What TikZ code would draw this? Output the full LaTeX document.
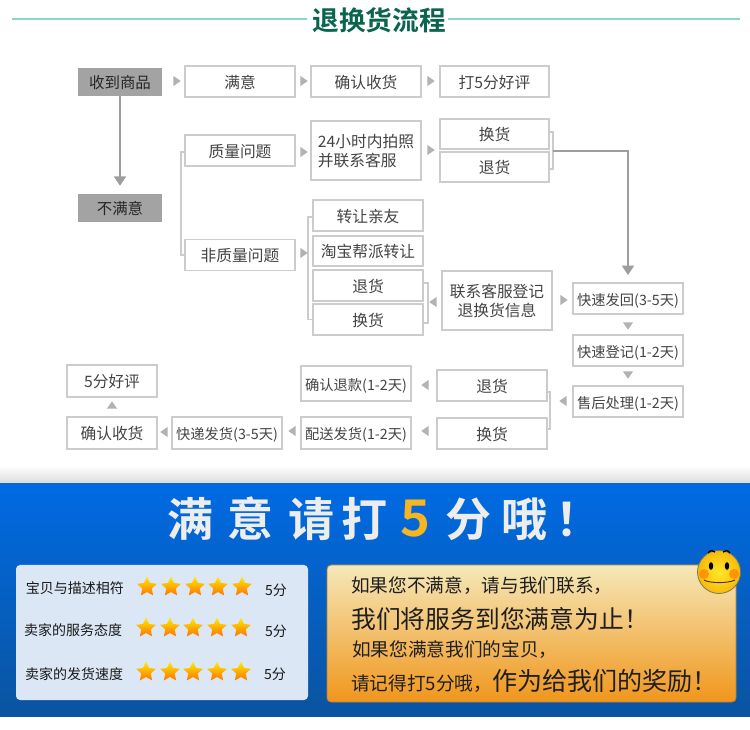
\documentclass[tikz,border=0pt]{standalone}
\usepackage{fontspec}
\setmainfont{Noto Sans CJK SC}[BoldFont=* Bold]
\usetikzlibrary{shapes.geometric,arrows.meta}
\definecolor{boxline}{HTML}{CCCCCC}
\definecolor{boxtext}{HTML}{444444}
\definecolor{tri}{HTML}{B2B2B2}
\newcommand{\fs}[1]{\fontsize{#1}{#1}\selectfont}
\newcommand{\nar}[1]{{\fontsize{10.7}{14.25}\selectfont #1}}
\tikzset{
 x=0.75pt,y=-0.75pt,
 flowbox/.style={draw=boxline,line width=1pt,fill=white,text=boxtext,inner sep=0pt,font=\fontsize{11.8}{14.25}\selectfont},
 darkbox/.style={draw=none,fill=black!36,text=black!85,inner sep=0pt,font=\fontsize{11.6}{14.25}\selectfont},
 tribase/.style={isosceles triangle,isosceles triangle apex angle=70,fill=tri,draw=none,inner sep=0pt,minimum width=7.5pt,minimum height=5.5pt},
 triright/.style={tribase,shape border rotate=0},
 trileft/.style={tribase,shape border rotate=180},
 tridown/.style={tribase,shape border rotate=270},
 triup/.style={tribase,shape border rotate=90},
 link/.style={draw=boxline,line width=1pt},
 darklink/.style={draw=black!38,line width=1.1pt},
 starmark/.style={star,star points=5,star point ratio=2.05,minimum size=15.5pt,inner sep=0pt,draw=none,top color=yellow!85!orange,bottom color=orange!90!red},
 rowtext/.style={text=black!90,inner sep=0pt,font=\fs{10.5}},
 msg/.style={anchor=west,text=black!88,inner sep=0pt},
}
\newcommand{\bx}[7][flowbox]{%
 \node[#1,minimum width=#4*0.75pt,minimum height=#5*0.75pt] (#2) at (#3)
 {\raisebox{-2.2pt}[\height][\depth]{\begin{tabular}{@{}#6@{}}#7\end{tabular}}};}
\begin{document}
\begin{tikzpicture}
\useasboundingbox (0,0) rectangle (750,730);
\fill[white] (0,0) rectangle (750,730);
% banner
\shade[top color={rgb,255:red,0;green,108;blue,232},bottom color={rgb,255:red,10;green,84;blue,160}] (0,466) rectangle (750,716);
\fill[white,rounded corners=10.5pt] (-30,-30) rectangle (780,483);
\begin{scope}
\clip[rounded corners=10.5pt] (-30,-30) rectangle (780,483);
\shade[top color=white,bottom color=black!14] (-30,466) rectangle (780,483);
\end{scope}
% title
\node[font=\bfseries\fs{20},text={rgb,255:red,10;green,100;blue,78},inner sep=0pt] (title) at (379,20) {退换货流程};
\coordinate (tl) at (12,19);\coordinate (tr) at (740,19);
\coordinate (tml) at (307,19);\coordinate (tmr) at (448,19);
\draw[line width=1.5pt,draw={rgb,255:red,140;green,214;blue,198}] (tl) -- (tml);
\draw[line width=1.5pt,draw={rgb,255:red,140;green,214;blue,198}] (tmr) -- (tr);
% boxes
\bx[darkbox]{shou}{120,82}{84}{28}{c}{收到商品}
\bx[darkbox]{bu}{120,208}{84}{28}{c}{不满意}
\bx{my}{240,81.5}{110}{31}{c}{满意}
\bx{qr}{366,81.5}{110}{31}{c}{确认收货}
\bx{dp}{494.5,81.5}{109}{31}{c}{打5分好评}
\bx{zl}{240,150.5}{110}{31}{c}{质量问题}
\bx{hr}{366,150.5}{110}{59}{l}{24小时内拍照\\并联系客服}
\bx{hh}{494.5,134}{109}{30}{c}{换货}
\bx{th}{494.5,167}{109}{30}{c}{退货}
\bx{fz}{240,255}{110}{31}{c}{非质量问题}
\bx{zr}{368,215.5}{110}{31}{c}{转让亲友}
\bx{tb}{368,251}{110}{30}{c}{淘宝帮派转让}
\bx{tb2}{368,285.5}{110}{31}{c}{退货}
\bx{hb2}{368,319.5}{110}{31}{c}{换货}
\bx{lx}{497,300.5}{110}{59}{c}{联系客服登记\\退换货信息}
\bx{kf}{628,298.5}{110}{31}{c}{\nar{快速发回(3-5天)}}
\bx{kd}{628,350.5}{110}{31}{c}{\nar{快速登记(1-2天)}}
\bx{sh}{628,401.5}{110}{31}{c}{\nar{售后处理(1-2天)}}
\bx{tc}{492,385.5}{110}{31}{c}{退货}
\bx{hc}{492,433.5}{110}{31}{c}{换货}
\bx{qt}{356,383.5}{110}{35}{c}{\nar{确认退款(1-2天)}}
\bx{ps}{356,433}{110}{32}{c}{\nar{配送发货(1-2天)}}
\bx{kz}{227,433}{110}{32}{c}{\nar{快递发货(3-5天)}}
\bx{qs}{112,433}{90}{32}{c}{确认收货}
\bx{wf}{112,381}{90}{32}{c}{5分好评}
% connectors
\coordinate (b1) at (181,152);
\coordinate (b2) at (308,217);
\coordinate (b3) at (428,283);
\coordinate (b4) at (553,132);
\coordinate (b5) at (553,151);
\coordinate (b6) at (550,392);
\draw[darklink,line width=1.4pt,-{Triangle[length=7pt,width=9pt]},shorten >=6pt] (shou) -- (bu);
\draw[link] (zl.west |- b1) -- (b1) |- (fz.west);
\draw[link] (zr.west |- b2) -- (b2) |- (hb2.west);
\draw[link] (tb2.east |- b3) -- (b3) -- (428,323) -- (hb2.east |- 428,323);
\draw[link] (hh.east |- b4) -- (b4) -- (553,169) -- (th.east |- 553,169);
\draw[darklink,-{Triangle[length=7pt,width=9pt]},shorten >=5.5pt] (b5) -| (kf.north);
\draw[link] (tc.east |- b6) -- (b6) -- (550,429) -- (hc.east |- 550,429);
% small triangles
\node[triright] (a1) at (176,81) {};
\node[triright] (a2) at (303,81) {};
\node[triright] (a3) at (430,81) {};
\node[triright] (a4) at (303,152) {};
\node[triright] (a5) at (430,150) {};
\node[triright] (a6) at (303,253) {};
\node[trileft] (a7) at (434,302) {};
\node[triright] (a8) at (563,300) {};
\node[tridown] (a9) at (628,325) {};
\node[tridown] (a10) at (628,374) {};
\node[trileft] (a11) at (564,401) {};
\node[trileft] (a12) at (426,385) {};
\node[trileft] (a13) at (426,431) {};
\node[trileft] (a14) at (293,431) {};
\node[trileft] (a15) at (165,432) {};
\node[triup] (a16) at (112,406) {};
% headline
\node[font=\bfseries\fs{34.5},text=white!93!black,inner sep=0pt,anchor=base west] (head) at (167,537)
 {满\hspace{11pt}意\hspace{11pt}请\hspace{5pt}打\hspace{10pt}\textcolor[HTML]{F5B622}{\fs{38}5}\hspace{11pt}分\hspace{8pt}哦\hspace{6pt}！};
% left panel
\node[draw=none,fill={rgb,255:red,219;green,231;blue,245},rounded corners=3pt,minimum width=292*0.75pt,minimum height=135*0.75pt,inner sep=0pt] (lp) at (162,632.5) {};
\node[rowtext] (r1) at (75,588) {宝贝与描述相符};
\node[rowtext] (r2) at (73,630) {卖家的服务态度};
\node[rowtext] (r3) at (74,674) {卖家的发货速度};
\node[rowtext] (s1) at (276,590) {5分};
\node[rowtext] (s2) at (276,631) {5分};
\node[rowtext] (s3) at (275,674) {5分};
\foreach \x in {147,171,195,218,242}{\node[starmark] at (\x,587) {};}
\foreach \x in {146,170,193,217,241}{\node[starmark] at (\x,628) {};\node[starmark] at (\x,672) {};}
% right panel
\shade[top color={rgb,255:red,245;green,232;blue,185},bottom color={rgb,255:red,240;green,150;blue,28},rounded corners=3pt,draw={rgb,255:red,176;green,128;blue,64},line width=0.6pt] (327,565) rectangle (736,702);
\node[msg,font=\fs{14}] (m1) at (351,586) {如果您不满意，请与我们联系，};
\node[msg,font=\fs{18.6}] (m2) at (351,619) {我们将服务到您满意为止！};
\node[msg,font=\fs{14}] (m3) at (352,650) {如果您满意我们的宝贝，};
\node[msg,font=\fs{14}] (m4) at (351,681) {请记得打5分哦，{\fs{18.8}作为给我们的奖励！}};
% smiley
\shade[inner color={rgb,255:red,255;green,232;blue,40},outer color={rgb,255:red,248;green,186;blue,10},draw={rgb,255:red,120;green,120;blue,90},line width=0.6pt] (719,572) circle[radius=21.5];
\begin{scope}
\clip (719,572) circle[radius=21.5];
\fill[orange!85!red,opacity=.55] (704,574) circle[radius=5];
\fill[orange!85!red,opacity=.55] (734,574) circle[radius=5];
\end{scope}
\fill[black] (711,566) ellipse[x radius=2.2,y radius=3.8];
\fill[black] (727,566) ellipse[x radius=2.2,y radius=3.8];
\draw[black!65!orange,line width=0.7pt] (704,580) .. controls (710,583.5) and (728,583.5) .. (735,580);
\draw[black,line width=1pt] (708,553) .. controls (710,550) and (713,550) .. (715,552);
\draw[black,line width=1pt] (723,552) .. controls (725,550) and (728,550) .. (730,553);
\end{tikzpicture}
\end{document}
